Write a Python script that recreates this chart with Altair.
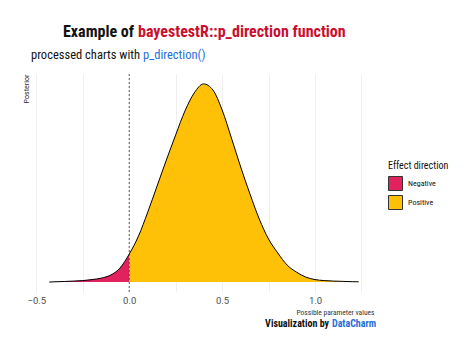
import altair as alt
import pandas as pd

# Posterior density (x = parameter value, y = density)
x_vals = [-0.43, -0.40, -0.35, -0.30, -0.25, -0.20, -0.15, -0.10, -0.05, 0.00,
          0.05, 0.10, 0.15, 0.20, 0.25, 0.30, 0.35, 0.40, 0.45, 0.50,
          0.55, 0.60, 0.65, 0.70, 0.75, 0.80, 0.85, 0.90, 0.95, 1.00,
          1.05, 1.10, 1.15, 1.20, 1.235]
dens_vals = [0.000, 0.003, 0.006, 0.010, 0.015, 0.025, 0.040, 0.070, 0.140, 0.280,
             0.460, 0.700, 0.960, 1.220, 1.470, 1.710, 1.890, 1.980, 1.920, 1.720,
             1.440, 1.150, 0.880, 0.630, 0.430, 0.290, 0.170, 0.100, 0.050, 0.025,
             0.015, 0.010, 0.007, 0.004, 0.003]

directions = ["Negative", "Positive"]
dir_colors = ["#E2215F", "#FFC107"]
grid_ticks = [-0.5, -0.25, 0.0, 0.25, 0.5, 0.75, 1.0, 1.25]

title_parts = ["Example of", "bayestestR::p_direction function"]
subtitle_parts = ["processed charts with", "p_direction()"]
caption_parts = ["Visualization by", "DataCharm"]

FONT = "Roboto Condensed, Liberation Sans Narrow, DejaVu Sans Condensed, Roboto"

rows = []
for xv, dv in zip(x_vals, dens_vals):
    if xv <= 0:
        rows.append({"x": xv, "density": dv, "dir": "Negative"})
    if xv >= 0:
        rows.append({"x": xv, "density": dv, "dir": "Positive"})
df = pd.DataFrame(rows)
curve = pd.DataFrame({"x": x_vals, "density": dens_vals})

xscale = alt.Scale(domain=[-0.5125, 1.3175], nice=False, zero=False)
yscale = alt.Scale(domain=[-0.099, 2.079], nice=False, zero=False)

xaxis = alt.Axis(
    values=grid_ticks,
    labelExpr="abs(datum.value % 0.5) < 0.001 ? format(datum.value, '.1f') : ''",
    title="Possible parameter values",
    titleFont=FONT, titleFontSize=7.5, titleFontWeight="normal", titleColor="#333333",
    titleAnchor="end", titleAlign="right", titleX=340, titleY=16, titleBaseline="top",
    labelFont="Roboto", labelFontSize=9.5, labelColor="#4D4D4D", labelPadding=3,
    tickSize=0, domain=False, grid=True, gridColor="#EBEBEB", gridWidth=0.8,
    labelFlush=False,
)
yaxis = alt.Axis(
    title="Posterior", labels=False, ticks=False, domain=False, grid=False,
    titleFont=FONT, titleFontSize=8, titleFontWeight="normal", titleColor="#333333",
    titleAngle=-90, titleX=-8, titleY=0, titleAlign="right", titleBaseline="middle",
)

area = alt.Chart(df).mark_area(interpolate="monotone", opacity=1).encode(
    x=alt.X("x:Q", scale=xscale, axis=xaxis),
    y=alt.Y("density:Q", scale=yscale, axis=yaxis, stack=None),
    fill=alt.Fill("dir:N", scale=alt.Scale(domain=directions, range=dir_colors),
                  legend=alt.Legend(title="Effect direction", orient="none",
                                    legendX=354, legendY=87,
                                    symbolType="square", symbolSize=196,
                                    symbolStrokeColor="#333333", symbolStrokeWidth=1,
                                    rowPadding=0, titlePadding=5,
                                    titleFont=FONT, titleFontSize=10,
                                    titleFontWeight="normal", titleColor="#111111",
                                    labelFont=FONT, labelFontSize=8, labelColor="#111111",
                                    labelOffset=5)),
    detail="dir:N",
)

outline = alt.Chart(curve).mark_line(interpolate="monotone", color="black",
                                     strokeWidth=1).encode(
    x=alt.X("x:Q", scale=xscale),
    y=alt.Y("density:Q", scale=yscale),
)

zero_line = alt.Chart(pd.DataFrame({"x": [0.0]})).mark_rule(
    color="#333333", strokeDash=[2, 2], strokeWidth=0.8
).encode(x=alt.X("x:Q", scale=xscale))


def text_layer(txt, px, py, color, size, weight, align):
    return alt.Chart(pd.DataFrame({"t": [txt]})).mark_text(
        font=FONT, fontSize=size, fontWeight=weight, color=color,
        align=align, baseline="alphabetic"
    ).encode(text="t:N", x=alt.value(px), y=alt.value(py))


chart = alt.layer(
    area, outline, zero_line,
    text_layer(title_parts[0], 100, -37, "#111111", 16, "bold", "right"),
    text_layer(title_parts[1], 104, -37, "#C8102E", 16, "bold", "left"),
    text_layer(subtitle_parts[0], 106, -15, "#111111", 12.5, "normal", "right"),
    text_layer(subtitle_parts[1], 109, -15, "#1F6FD6", 12.5, "normal", "left"),
    text_layer(caption_parts[0], 295, 253, "#111111", 10, "bold", "right"),
    text_layer(caption_parts[1], 298, 253, "#1F6FD6", 10, "bold", "left"),
).properties(
    width=340, height=218,
    autosize=alt.AutoSizeParams(type="none"),
    padding={"left": 34, "top": 74, "right": 100, "bottom": 63},
    background="white",
).configure_view(strokeWidth=0)

chart.save("out.html", embed_options={"renderer": "svg", "actions": False})
